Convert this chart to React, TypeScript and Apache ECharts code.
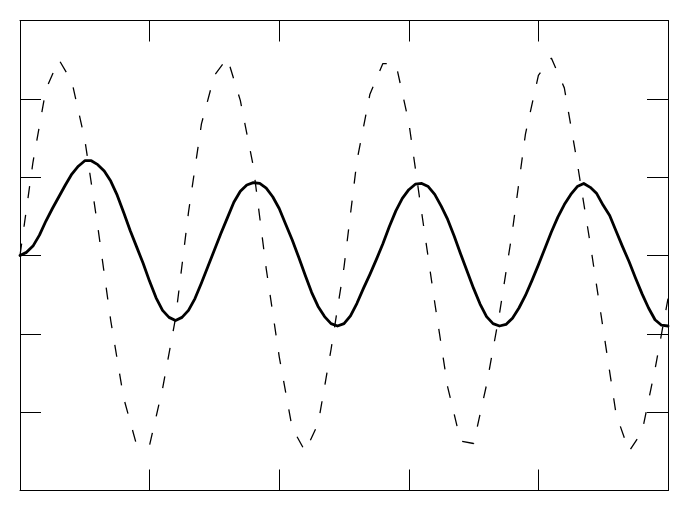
import React, { useEffect, useRef } from "react";
import * as echarts from "echarts";

// sample positions of the dashed curve
const xCoarse = [
  0.0, 0.1, 0.2, 0.3, 0.4, 0.5, 0.6, 0.7, 0.8, 0.9,
  1.0, 1.1, 1.2, 1.3, 1.4, 1.5, 1.6, 1.7, 1.8, 1.9,
  2.0, 2.1, 2.2, 2.3, 2.4, 2.5, 2.6, 2.7, 2.8, 2.9,
  3.0, 3.1, 3.2, 3.3, 3.4, 3.5, 3.6, 3.7, 3.8, 3.9,
  4.0, 4.1, 4.2, 4.3, 4.4, 4.5, 4.6, 4.7, 4.8, 4.9,
  5.0,
];

// sample positions of the solid curve
const xFine = [
  0.0, 0.05, 0.1, 0.15, 0.2, 0.25, 0.3, 0.35, 0.4, 0.45,
  0.5, 0.55, 0.6, 0.65, 0.7, 0.75, 0.8, 0.85, 0.9, 0.95,
  1.0, 1.05, 1.1, 1.15, 1.2, 1.25, 1.3, 1.35, 1.4, 1.45,
  1.5, 1.55, 1.6, 1.65, 1.7, 1.75, 1.8, 1.85, 1.9, 1.95,
  2.0, 2.05, 2.1, 2.15, 2.2, 2.25, 2.3, 2.35, 2.4, 2.45,
  2.5, 2.55, 2.6, 2.65, 2.7, 2.75, 2.8, 2.85, 2.9, 2.95,
  3.0, 3.05, 3.1, 3.15, 3.2, 3.25, 3.3, 3.35, 3.4, 3.45,
  3.5, 3.55, 3.6, 3.65, 3.7, 3.75, 3.8, 3.85, 3.9, 3.95,
  4.0, 4.05, 4.1, 4.15, 4.2, 4.25, 4.3, 4.35, 4.4, 4.45,
  4.5, 4.55, 4.6, 4.65, 4.7, 4.75, 4.8, 4.85, 4.9, 4.95,
  5.0,
];

// thick solid curve
const solidValues = [
  0.0, 0.04, 0.12, 0.26, 0.44, 0.6, 0.75, 0.9, 1.04, 1.14,
  1.21, 1.21, 1.16, 1.08, 0.95, 0.77, 0.55, 0.32, 0.11, -0.1,
  -0.33, -0.54, -0.7, -0.79, -0.83, -0.79, -0.7, -0.55, -0.35, -0.14,
  0.07, 0.28, 0.48, 0.68, 0.82, 0.9, 0.93, 0.92, 0.86, 0.75,
  0.6, 0.4, 0.2, -0.02, -0.25, -0.47, -0.65, -0.78, -0.87, -0.9,
  -0.87, -0.77, -0.61, -0.42, -0.24, -0.05, 0.15, 0.37, 0.57, 0.73,
  0.84, 0.91, 0.92, 0.88, 0.78, 0.63, 0.46, 0.25, 0.02, -0.2,
  -0.42, -0.62, -0.78, -0.87, -0.9, -0.88, -0.8, -0.67, -0.51, -0.32,
  -0.12, 0.09, 0.3, 0.49, 0.65, 0.78, 0.88, 0.92, 0.87, 0.79,
  0.64, 0.51, 0.31, 0.11, -0.08, -0.29, -0.49, -0.67, -0.82, -0.89,
  -0.9,
];

// thin dashed curve
const dashedValues = [
  0.0, 1.19, 2.12, 2.5, 2.22, 1.48, 0.37, -0.83, -1.82, -2.42,
  -2.42, -1.7, -0.8, 0.55, 1.68, 2.3, 2.52, 1.98, 1.14, -0.17,
  -1.29, -2.2, -2.5, -2.15, -1.2, -0.15, 1.21, 2.06, 2.45, 2.45,
  1.7, 0.54, -0.6, -1.68, -2.37, -2.4, -1.65, -0.74, 0.32, 1.55,
  2.3, 2.52, 2.14, 1.18, 0.15, -0.94, -2.03, -2.5, -2.25, -1.45,
  -0.55,
];

const xTicks = { min: 0, max: 5, interval: 1 };
const yTicks = { min: -3, max: 3, interval: 1 };

export default function App() {
  const ref = useRef<HTMLDivElement>(null);

  useEffect(() => {
    if (!ref.current) return;
    const chart = echarts.init(ref.current, undefined, { renderer: "svg" });

    const frameAxis = (position: string) => ({
      type: "value" as const,
      position,
      axisLine: { show: true, onZero: false, lineStyle: { color: "#000", width: 1 } },
      axisTick: { show: true, inside: true, length: 21, lineStyle: { color: "#000", width: 1 } },
      axisLabel: { show: false },
      splitLine: { show: false },
    });

    chart.setOption({
      animation: false,
      backgroundColor: "#fff",
      grid: { left: 20, right: 21, top: 20.5, bottom: 17.5, containLabel: false },
      xAxis: [
        { ...frameAxis("bottom"), ...xTicks },
        { ...frameAxis("top"), ...xTicks },
      ],
      yAxis: [
        { ...frameAxis("left"), ...yTicks },
        { ...frameAxis("right"), ...yTicks },
      ],
      series: [
        {
          type: "line",
          name: "dashed",
          data: xCoarse.map((x, i) => [x, dashedValues[i]]),
          showSymbol: false,
          symbol: "none",
          lineStyle: { color: "#000", width: 1.3, type: [12, 17] },
          z: 2,
        },
        {
          type: "line",
          name: "solid",
          data: xFine.map((x, i) => [x, solidValues[i]]),
          showSymbol: false,
          symbol: "none",
          lineStyle: { color: "#000", width: 2.8, join: "round", cap: "round" },
          z: 3,
        },
      ],
    });

    return () => chart.dispose();
  }, []);

  return (
    <div
      ref={ref}
      style={{ position: "fixed", left: 0, top: 0, width: 689, height: 508, background: "#fff" }}
    />
  );
}
